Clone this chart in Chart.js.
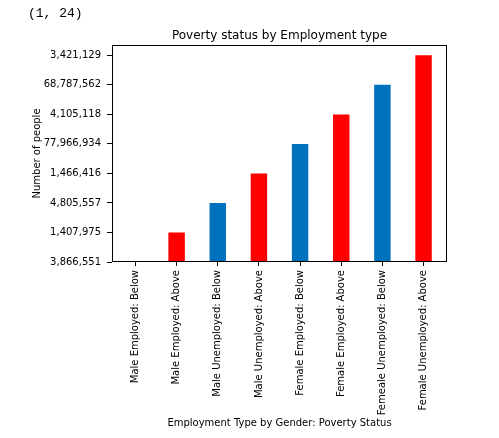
<!DOCTYPE html>
<html>
<head>
<meta charset="utf-8">
<script src="https://cdn.jsdelivr.net/npm/chart.js@4/dist/chart.umd.min.js"></script>
<style>
  html, body { margin:0; padding:0; background:#fff; }
  #wrap { position:relative; width:499px; height:438px; }
  #note { position:absolute; left:28px; top:6px; font:13px "Liberation Mono", monospace; color:#000; white-space:pre; line-height:16px; }
  canvas { position:absolute; left:0; top:0; }
</style>
</head>
<body>
<div id="wrap">
  <canvas id="c" width="499" height="438"></canvas>
  <div id="note">(1, 24)</div>
</div>
<script>
const categories = [
  "Male Employed: Below",
  "Male Employed: Above",
  "Male Unemployed: Below",
  "Male Unemployed: Above",
  "Female Employed: Below",
  "Female Employed: Above",
  "Femeale Unemployed: Below",
  "Female Unemployed: Above"
];
const values = [0, 1, 2, 3, 4, 5, 6, 7];
const yTickLabels = [
  "3,866,551", "1,407,975", "4,805,557", "1,466,416",
  "77,966,934", "4,105,118", "68,787,562", "3,421,129"
];
const barColors = ["#0072BD", "#FF0000", "#0072BD", "#FF0000", "#0072BD", "#FF0000", "#0072BD", "#FF0000"];

const FONT = "'DejaVu Sans', sans-serif";

const framePlugin = {
  id: 'frame',
  afterDatasetsDraw(chart) {
    const {ctx, chartArea: a} = chart;
    ctx.save();
    ctx.strokeStyle = '#000';
    ctx.lineWidth = 1;
    ctx.strokeRect(Math.round(a.left) + 0.5, Math.round(a.top) + 0.5,
                   Math.round(a.right - a.left) - 1, Math.round(a.bottom - a.top) - 1);
    ctx.fillStyle = '#000';
    ctx.font = "12px " + FONT;
    ctx.textAlign = 'center';
    ctx.textBaseline = 'alphabetic';
    ctx.fillText("Poverty status by Employment type", (a.left + a.right) / 2, 39);
    ctx.restore();
  }
};

new Chart(document.getElementById('c'), {
  type: 'bar',
  data: {
    datasets: [{
      data: values.map((v, i) => ({x: i, y: v})),
      backgroundColor: barColors,
      borderWidth: 0,
      categoryPercentage: 1.0,
      barPercentage: 0.4
    }]
  },
  options: {
    responsive: false,
    animation: false,
    events: [],
    layout: { padding: { left: 0, top: 45, right: 52, bottom: 0 } },
    plugins: { legend: { display: false }, tooltip: { enabled: false } },
    scales: {
      x: {
        type: 'linear',
        offset: false,
        min: -0.57,
        max: 7.57,
        afterBuildTicks(scale) { scale.ticks = categories.map((c, i) => ({value: i})); },
        afterFit(scale) { scale.height = 176; },
        grid: { drawOnChartArea: false, drawTicks: true, tickLength: 4, color: '#000', lineWidth: 1, offset: false },
        border: { display: false },
        ticks: {
          autoSkip: false, minRotation: 90, maxRotation: 90, padding: 4,
          color: '#000', font: { family: FONT, size: 10 },
          callback: (v) => categories[v]
        },
        title: { display: true, text: "Employment Type by Gender: Poverty Status", color: '#000',
                 font: { family: FONT, size: 10 }, padding: { top: 0, bottom: 9 } }
      },
      y: {
        min: 0,
        max: 7.35,
        afterBuildTicks(scale) { scale.ticks = yTickLabels.map((l, i) => ({value: i})); },
        afterFit(scale) { scale.width = 112; },
        grid: { drawOnChartArea: false, drawTicks: true, tickLength: 5, color: '#000', lineWidth: 1 },
        border: { display: false },
        ticks: {
          padding: 6, color: '#000', font: { family: FONT, size: 10 },
          callback: (v) => yTickLabels[v]
        },
        title: { display: true, text: "Number of people", color: '#000',
                 font: { family: FONT, size: 10 }, padding: { top: 31, bottom: 0 } }
      }
    }
  },
  plugins: [framePlugin]
});
</script>
</body>
</html>
